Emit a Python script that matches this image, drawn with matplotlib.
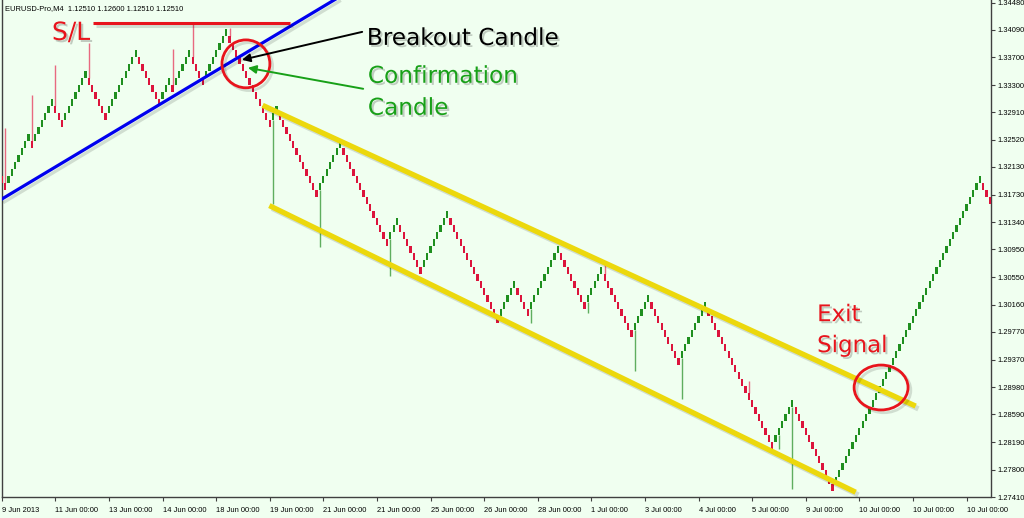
import numpy as np
import matplotlib
matplotlib.use("Agg")
import matplotlib.pyplot as plt
import matplotlib.patheffects as pe
from matplotlib.patches import Ellipse

# renko data: brick size, first open, legs as signed brick counts
brick_size = 0.001
start_price = 1.3200
legs = [-2, 7, -1, 6, -3, 7, -6, 9, -7, 3, -1, 5, -4, 7, -13, 2, -12, 7, -14, 3,
        -7, 8, -15, 5, -4, 9, -8, 5, -9, 5, -9, 8, -20, 6, -12, 44, -3]

# wicks: brick index and the extreme price reached
wick_idx = [1, 9, 16, 26, 51, 57, 68, 81, 95, 116, 158, 175, 180, 189, 203, 223, 232, 236]
wick_price = [1.32688, 1.33163, 1.33591, 1.33900, 1.33815, 1.34180, 1.34123, 1.31594,
              1.30980, 1.30571, 1.29896, 1.30039, 1.30738, 1.29216, 1.28812, 1.29073,
              1.28099, 1.27528]

date_labels = ["9 Jun 2013", "11 Jun 00:00", "13 Jun 00:00", "14 Jun 00:00", "18 Jun 00:00",
               "19 Jun 00:00", "21 Jun 00:00", "21 Jun 00:00", "25 Jun 00:00", "26 Jun 00:00",
               "28 Jun 00:00", "1 Jul 00:00", "3 Jul 00:00", "4 Jul 00:00", "5 Jul 00:00",
               "9 Jul 00:00", "10 Jul 00:00", "10 Jul 00:00", "10 Jul 00:00"]
date_step = 16

price_ticks = [1.34480, 1.34090, 1.33700, 1.33300, 1.32910, 1.32520, 1.32130, 1.31730,
               1.31340, 1.30950, 1.30550, 1.30160, 1.29770, 1.29370, 1.28980, 1.28590,
               1.28190, 1.27800, 1.27410]

# annotation drawings (brick index, price)
trend_x = [0, 100]
trend_y = [1.3167, 1.3454]
sl_x = [27.3, 86.1]
sl_y = [1.3419, 1.3419]
chan_up_x = [78.6, 272.1]
chan_up_y = [1.32996, 1.28726]
chan_lo_x = [80.6, 254.2]
chan_lo_y = [1.31561, 1.27495]

bg = "#f0fff0"
green = "#1f8f1f"
red = "#dc143c"

# build renko bricks
opens, closes = [], []
lo = hi = start_price
for n in legs:
    for _ in range(abs(n)):
        if n > 0:
            lo, hi = hi, round(hi + brick_size, 5)
            opens.append(lo)
            closes.append(hi)
        else:
            hi, lo = lo, round(lo - brick_size, 5)
            opens.append(hi)
            closes.append(lo)
opens = np.array(opens)
closes = np.array(closes)
x = np.arange(len(opens))
up = closes > opens

fig = plt.figure(figsize=(10.24, 5.18), dpi=100, facecolor=bg)
ax = fig.add_axes([1.5 / 1024, 21 / 518, 989 / 1024, 497 / 518])
ax.set_facecolor(bg)

# wicks
for i, p in zip(wick_idx, wick_price):
    b_lo = min(opens[i], closes[i])
    b_hi = max(opens[i], closes[i])
    c = "#5fae5f" if up[i] else "#e86a80"
    if p > b_hi:
        ax.vlines(i, b_hi, p, color=c, lw=1, zorder=2)
    else:
        ax.vlines(i, p, b_lo, color=c, lw=1, zorder=2)

ax.bar(x[up], (closes - opens)[up], bottom=opens[up], width=0.68, color=green, linewidth=0, zorder=3)
ax.bar(x[~up], (opens - closes)[~up], bottom=closes[~up], width=0.68, color=red, linewidth=0, zorder=3)

ax.set_xlim(-0.06, 295.16)
ax.set_ylim(1.27428, 1.34518)

# annotations
line_fx = [pe.SimpleLineShadow(offset=(2, -2), alpha=0.13), pe.Normal()]
ax.plot(trend_x, trend_y, color="#0000ee", lw=2.3, zorder=5, path_effects=line_fx)
ax.plot(sl_x, sl_y, color="#e8141c", lw=2.2, zorder=5, solid_capstyle="butt", path_effects=line_fx)
ax.plot(chan_up_x, chan_up_y, color="#ecd80c", lw=3.8, zorder=5, path_effects=line_fx)
ax.plot(chan_lo_x, chan_lo_y, color="#ecd80c", lw=3.8, zorder=5, path_effects=line_fx)

for cx, cy, w, h in [(72.9, 1.33605, 14.3, 0.00685), (262.5, 1.28976, 16.1, 0.00642)]:
    e = Ellipse((cx, cy), w, h, fill=False, edgecolor="#e8141c", lw=2.0, zorder=6,
                path_effects=line_fx)
    ax.add_patch(e)

ax.annotate("", xy=(71.7, 1.33662), xytext=(107.6, 1.34062),
            arrowprops=dict(arrowstyle="-|>", color="black", lw=1.4, mutation_scale=12,
                            shrinkA=0, shrinkB=0), zorder=7)
ax.annotate("", xy=(73.5, 1.33548), xytext=(107.9, 1.33248),
            arrowprops=dict(arrowstyle="-|>", color="#18a018", lw=1.4, mutation_scale=12,
                            shrinkA=0, shrinkB=0), zorder=7)

txt_fx = [pe.withSimplePatchShadow(offset=(1.5, -1.5), shadow_rgbFace="k", alpha=0.2)]
ax.text(15.0, 1.33947, "S/L", color="#e8141c", fontsize=18, va="baseline", zorder=8, path_effects=txt_fx)
ax.text(109.0, 1.33876, "Breakout Candle", color="black", fontsize=16.7, va="baseline", zorder=8, path_effects=txt_fx)
ax.text(109.3, 1.33334, "Confirmation", color="#18a018", fontsize=16.7, va="baseline", zorder=8, path_effects=txt_fx)
ax.text(109.3, 1.32877, "Candle", color="#18a018", fontsize=16.7, va="baseline", zorder=8, path_effects=txt_fx)
ax.text(243.4, 1.29925, "Exit", color="#e8141c", fontsize=16.5, va="baseline", zorder=8, path_effects=txt_fx)
ax.text(243.4, 1.29482, "Signal", color="#e8141c", fontsize=16.5, va="baseline", zorder=8, path_effects=txt_fx)

# axes styling
ax.spines["top"].set_visible(False)
for s in ["left", "bottom", "right"]:
    ax.spines[s].set_color("#404040")
    ax.spines[s].set_linewidth(1)

tick_font = "Liberation Sans"
ax.yaxis.tick_right()
ax.set_yticks(price_ticks)
ax.set_yticklabels([f"{p:.5f}" for p in price_ticks], fontsize=5.4, family=tick_font)
ax.tick_params(axis="y", direction="out", length=3, pad=2, color="#404040")

ax.set_xticks(np.arange(len(date_labels)) * date_step)
ax.set_xticklabels(date_labels, fontsize=5.4, family=tick_font, ha="left")
ax.tick_params(axis="x", direction="out", length=3, pad=4, color="#404040")

fig.text(5 / 1024, 1 - 8.5 / 518, "EURUSD-Pro,M4  1.12510 1.12600 1.12510 1.12510",
         fontsize=5.4, family=tick_font, va="center", ha="left")

fig.savefig("out.png", dpi=100, facecolor=bg)
